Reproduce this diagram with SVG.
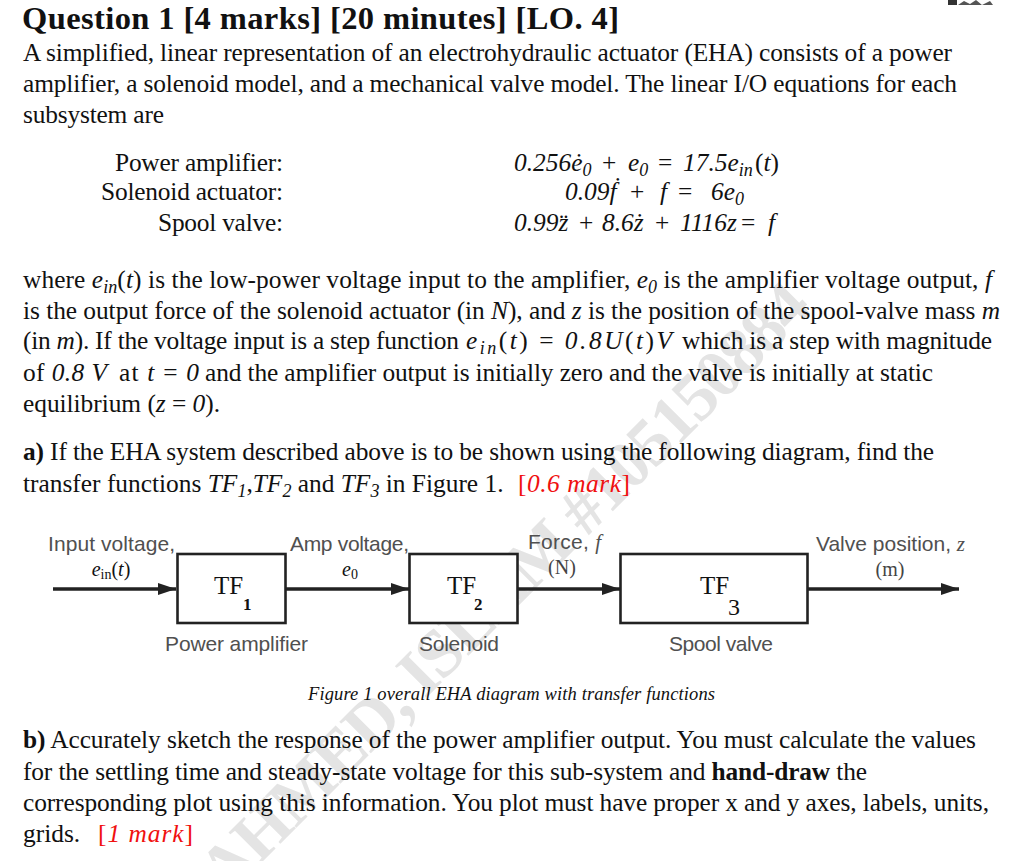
<svg xmlns="http://www.w3.org/2000/svg" width="1021" height="861" viewBox="0 0 1021 861">
<defs>
<style>
text{font-family:"Liberation Serif","Times New Roman",serif;fill:#111}
.b{font-size:25.4px}
.t{font-size:32.5px;font-weight:bold}
.i{font-style:italic}
.n{font-style:normal}
.w{font-size:68px;font-weight:bold;fill:#e4e4e4}
.r{fill:#f01010;font-size:25.4px}
.s{font-family:"Liberation Sans",Arial,sans-serif;font-size:21px;fill:#505050}
.tf{font-size:25px;fill:#111}
.box{fill:#fff;stroke:#222;stroke-width:2.6}
.c{fill:none;stroke:#222;stroke-width:3.6}
.sub{font-size:18px}
</style>
<marker id="arrow" markerUnits="userSpaceOnUse" markerWidth="20" markerHeight="14" refX="18" refY="7" orient="auto">
<path d="M0 1L18 7L0 13Z" fill="#222"/>
</marker>
</defs>
<rect width="1021" height="861" fill="#fff"/>
<g id="watermark">
<text class="w" transform="translate(226 898) rotate(-45)" textLength="832" lengthAdjust="spacing">AHMED, ISLAM #105150884</text>
</g>
<g id="stamp"><rect x="948" y="0" width="9" height="5" fill="#333"/><path d="M958 5L964 1L970 4L976 0L982 5L990 1L993 5Z" fill="#555"/></g>
<g id="question">
<text class="t" x="22" y="29" textLength="597">Question 1 [4 marks] [20 minutes] [LO. 4]</text>
<text class="b" x="23" y="61" textLength="929">A simplified, linear representation of an electrohydraulic actuator (EHA) consists of a power</text>
<text class="b" x="23" y="92" textLength="934">amplifier, a solenoid model, and a mechanical valve model. The linear I/O equations for each</text>
<text class="b" x="23" y="123" textLength="141">subsystem are</text>
<text class="b" x="115" y="171" textLength="168">Power amplifier:</text>
<text class="b" x="101" y="200" textLength="182">Solenoid actuator:</text>
<text class="b" x="158" y="231" textLength="125">Spool valve:</text>
<text class="b i" y="171"><tspan x="514">0.256ė</tspan><tspan class="sub" dy="5">0</tspan><tspan class="n" x="602" dy="-5">+</tspan><tspan x="628">e</tspan><tspan class="sub" dy="5">0</tspan><tspan class="n" x="658" dy="-5">=</tspan><tspan x="683">17.5e</tspan><tspan class="sub" dy="5">in</tspan><tspan class="n" dy="-5" x="755">(</tspan><tspan>t</tspan><tspan class="n">)</tspan></text>
<text class="b i" y="200"><tspan x="565">0.09ḟ</tspan><tspan class="n" x="630">+</tspan><tspan x="660">f</tspan><tspan class="n" x="678">=</tspan><tspan x="711">6e</tspan><tspan class="sub" dy="5">0</tspan></text>
<text class="b i" y="231"><tspan x="514">0.99z̈</tspan><tspan class="n" x="579">+</tspan><tspan x="602">8.6ż</tspan><tspan class="n" x="655">+</tspan><tspan x="680">1116z</tspan><tspan class="n" x="741">=</tspan><tspan x="768">f</tspan></text>
<text class="b" x="23" y="288" textLength="969">where <tspan class="i">e</tspan><tspan class="i sub" dy="5">in</tspan><tspan dy="-5">(</tspan><tspan class="i">t</tspan>) is the low-power voltage input to the amplifier, <tspan class="i">e</tspan><tspan class="i sub" dy="5">0</tspan><tspan dy="-5"> is the amplifier voltage output, </tspan><tspan class="i">f</tspan></text>
<text class="b" x="23" y="319" textLength="977">is the output force of the solenoid actuator (in <tspan class="i">N</tspan>), and <tspan class="i">z</tspan> is the position of the spool-valve mass <tspan class="i">m</tspan></text>
<text class="b" x="23" y="349" textLength="436">(in <tspan class="i">m</tspan>). If the voltage input is a step function</text>
<text class="b" x="466" y="349" textLength="206"><tspan class="i">e</tspan><tspan class="i sub" dy="5">in</tspan><tspan dy="-5">(</tspan><tspan class="i">t</tspan>) = <tspan class="i">0.8U</tspan>(<tspan class="i">t</tspan>)<tspan class="i">V</tspan></text>
<text class="b" x="682" y="349" textLength="310">which is a step with magnitude</text>
<text class="b i" x="23" y="381" textLength="84"><tspan class="n">of </tspan>0.8 V</text>
<text class="b" x="119" y="381" textLength="80">at <tspan class="i">t</tspan> = <tspan class="i">0</tspan></text>
<text class="b" x="205" y="381" textLength="728">and the amplifier output is initially zero and the valve is initially at static</text>
<text class="b" x="23" y="412" textLength="197">equilibrium (<tspan class="i">z</tspan> = <tspan class="i">0</tspan>).</text>
<text class="b" x="23" y="460" textLength="911"><tspan font-weight="bold">a)</tspan> If the EHA system described above is to be shown using the following diagram, find the</text>
<text class="b" x="23" y="492">transfer functions <tspan class="i">TF</tspan><tspan class="i sub" dy="5">1</tspan><tspan dy="-5">,</tspan><tspan class="i">TF</tspan><tspan class="i sub" dy="5">2</tspan><tspan dy="-5"> and </tspan><tspan class="i">TF</tspan><tspan class="i sub" dy="5">3</tspan><tspan dy="-5"> in Figure 1.</tspan></text>
<text class="r" x="518" y="492" textLength="112">[<tspan class="i">0.6 mark</tspan>]</text>
<text class="i" font-size="18.500" x="308" y="700" textLength="407">Figure 1 overall EHA diagram with transfer functions</text>
<text class="b" x="23" y="748" textLength="953"><tspan font-weight="bold">b)</tspan> Accurately sketch the response of the power amplifier output. You must calculate the values</text>
<text class="b" x="23" y="780" textLength="844">for the settling time and steady-state voltage for this sub-system and <tspan font-weight="bold">hand-draw</tspan> the</text>
<text class="b" x="23" y="811" textLength="966">corresponding plot using this information. You plot must have proper x and y axes, labels, units,</text>
<text class="b" x="23" y="842">grids.</text>
<text class="r" x="98" y="842" textLength="95">[<tspan class="i">1 mark</tspan>]</text>
</g>
<g id="connectors">
<line class="c" x1="53" y1="589" x2="176" y2="589" marker-end="url(#arrow)"/>
<line class="c" x1="286" y1="589" x2="409" y2="589" marker-end="url(#arrow)"/>
<line class="c" x1="518" y1="589" x2="620" y2="589" marker-end="url(#arrow)"/>
<line class="c" x1="807" y1="589" x2="959" y2="589" marker-end="url(#arrow)"/>
</g>
<g id="tf1"><rect class="box" x="177.500" y="554" width="108" height="69"/><text class="tf" x="214" y="594">TF</text><text font-size="17" font-weight="bold" x="243" y="610">1</text><text class="s" x="165" y="651" textLength="143">Power amplifier</text></g>
<g id="tf2"><rect class="box" x="409.500" y="554" width="108" height="69"/><text class="tf" x="447" y="594">TF</text><text font-size="17" font-weight="bold" x="474" y="610">2</text><text class="s" x="419" y="651" textLength="80">Solenoid</text></g>
<g id="tf3"><rect class="box" x="620.500" y="554" width="187" height="69"/><text class="tf" x="700" y="594">TF</text><text font-size="24" x="728" y="615">3</text><text class="s" x="669" y="651" textLength="104">Spool valve</text></g>
<g id="labels">
<text class="s" x="48" y="551" textLength="127">Input voltage,</text>
<text class="s" x="290" y="551" textLength="119">Amp voltage,</text>
<text class="s" x="528" y="549" textLength="73">Force, <tspan font-family="Liberation Serif" class="i">f</tspan></text>
<text class="s" x="816" y="551" textLength="149">Valve position, <tspan font-family="Liberation Serif" class="i">z</tspan></text>
<text font-size="20" x="111" y="576" text-anchor="middle" fill="#333"><tspan class="i">e</tspan><tspan font-size="14" dy="3">in</tspan><tspan dy="-3">(</tspan><tspan class="i">t</tspan>)</text>
<text font-size="20" x="350" y="576" text-anchor="middle" fill="#333"><tspan class="i">e</tspan><tspan font-size="14" dy="3">0</tspan></text>
<text font-size="20" x="562" y="574" text-anchor="middle" style="fill:#444">(N)</text>
<text font-size="20" x="890" y="576" text-anchor="middle" style="fill:#444">(m)</text>
</g>
</svg>
